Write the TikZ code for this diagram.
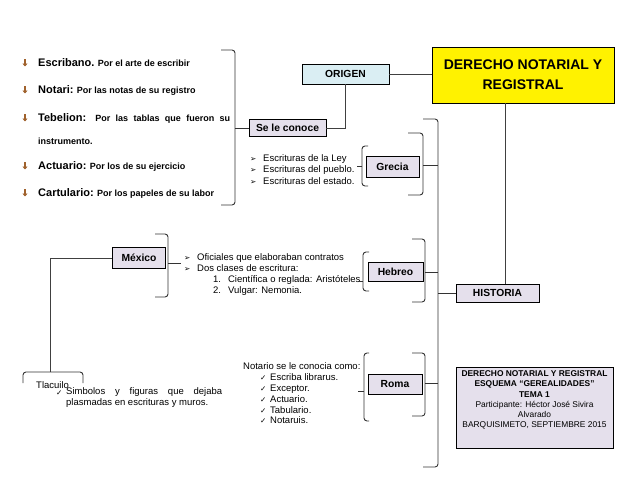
\documentclass[tikz,border=0pt]{standalone}
\usepackage{fontspec}
\setmainfont{Liberation Sans}
\newfontfamily\symfont{DejaVu Sans}
\usetikzlibrary{arrows.meta}

\definecolor{lila}{HTML}{E5E0EC}
\definecolor{celeste}{HTML}{DAEEF3}
\definecolor{cafe}{HTML}{A0622D}

\newcommand{\flecha}{\makebox[13pt][l]{\symfont\fontsize{7.5}{7.5}\selectfont ➢}}
\newcommand{\chk}{\makebox[10pt][l]{\symfont\fontsize{7.5}{7.5}\selectfont ✓}}

\tikzset{
  box/.style={draw, fill=lila, line width=0.8pt, inner sep=0pt, font=\bfseries\fontsize{10.3}{12}\selectfont},
  brace/.style={draw=black!80, line width=0.9pt, rounded corners=3pt},
  link/.style={draw=black!75, line width=0.9pt},
  txt/.style={anchor=west, inner sep=0pt, align=left, font=\fontsize{9.5}{11}\selectfont},
  termino/.style={txt, font=\bfseries\fontsize{9}{10}\selectfont},
  marca/.style={draw=cafe, line width=1.4pt, -{Triangle[width=5pt,length=3pt]}}
}

\begin{document}
\begin{tikzpicture}[x=1pt, y=-1pt]
\useasboundingbox (0,0) rectangle (638,493);

% Boxes
\node[box, fill=yellow, minimum width=182pt, minimum height=56pt, align=center,
      font=\bfseries\fontsize{14}{20}\selectfont] (titulo) at (523,75) {DERECHO NOTARIAL Y\\REGISTRAL};
\node[box, fill=celeste, minimum width=87pt, minimum height=20pt] (origen) at (345.5,74) {ORIGEN};
\node[box, minimum width=77pt, minimum height=17pt] (conoce) at (287.5,128) {Se le conoce};
\node[box, minimum width=53pt, minimum height=21pt] (grecia) at (392.5,166.5) {Grecia};
\node[box, minimum width=55pt, minimum height=19pt] (hebreo) at (395.5,272) {Hebreo};
\node[box, minimum width=54pt, minimum height=20pt] (roma) at (395,384) {Roma};
\node[box, minimum width=53pt, minimum height=21pt] (mexico) at (139,258) {México};
\node[box, minimum width=83pt, minimum height=18pt] (historia) at (497.5,293) {HISTORIA};
\node[box, minimum width=157pt, minimum height=81pt] (datos) at (534.5,407.5) {};
\node[anchor=north, align=center, inner sep=0pt, font=\fontsize{8.4}{10.2}\selectfont]
     (datostxt) at ([yshift=-4pt]datos.north)
     {\textbf{DERECHO NOTARIAL Y REGISTRAL}\\\textbf{ESQUEMA “GEREALIDADES”}\\\textbf{TEMA 1}\\
      Participante: Héctor José Sivira\\Alvarado\\BARQUISIMETO, SEPTIEMBRE 2015};

% Se le conoce
\foreach \y in {63,90,118,166,193}
  \draw[marca] (25,\y-4) -- (25,\y+3.5);
\node[termino] (escribano) at (38,63) {{\fontsize{11}{13}\selectfont Escribano.} Por el arte de escribir};
\node[termino] (notari) at (38,90) {{\fontsize{11}{13}\selectfont Notari:} Por las notas de su registro};
\node[termino] (tebelion) at (38,118) {\makebox[192pt][s]{{\fontsize{11}{13}\selectfont Tebelion:} Por las tablas que fueron su}};
\node[termino] (instrumento) at (38,141) {instrumento.};
\node[termino] (actuario) at (38,166) {{\fontsize{11}{13}\selectfont Actuario:} Por los de su ejercicio};
\node[termino] (cartulario) at (38,193) {{\fontsize{11}{13}\selectfont Cartulario:} Por los papeles de su labor};

% Textos
\node[txt, font=\fontsize{9.5}{11.5}\selectfont] (escrituras) at (250,169.5)
  {\flecha Escrituras de la Ley\\\flecha Escrituras del pueblo.\\\flecha Escrituras del estado.};
\node[txt] (oficiales) at (184,274.5)
  {\flecha Oficiales que elaboraban contratos\\\flecha Dos clases de escritura:\\
   \hspace*{29pt}1.\hspace{7pt}Científica o reglada: Aristóteles\\
   \hspace*{29pt}2.\hspace{7pt}Vulgar: Nemonia.};
\node[txt, font=\fontsize{9.5}{10.8}\selectfont] (notario) at (243,393.5)
  {Notario se le conocia como:\\\hspace*{17pt}\chk Escriba librarus.\\\hspace*{17pt}\chk Exceptor.\\
   \hspace*{17pt}\chk Actuario.\\\hspace*{17pt}\chk Tabulario.\\\hspace*{17pt}\chk Notaruis.};
\node[txt] (tlacuilo) at (36,385.5) {Tlacuilo};
\node[txt] (chk1) at (56,393) {\chk};
\node[txt] (simbolos) at (66,398)
  {\makebox[156pt][s]{Simbolos y figuras que dejaba}\\plasmadas en escrituras y muros.};

% Lines
\draw[link] (origen.east) -- (origen.east -| titulo.west);
\draw[link] (origen.south) |- (conoce.east);
\coordinate (histtop) at ([xshift=7.5pt]historia.north);
\draw[link] (histtop) -- (histtop |- titulo.south);
\coordinate (nib) at (50,372);
\draw[link] (mexico.west) -| (nib);

% Braces
\draw[brace] (221,50) -| (235,205) -- (221,205);
\draw[brace] (235,128) -- (conoce.west);
\draw[brace] (368,146) -| (362,186) -- (368,186);
\draw[brace] (362,166) -- (357,166);
\draw[brace] (408,133) -| (423,195) -- (408,195);
\draw[brace] (423,165) -- (438,165);
\draw[brace] (369,252) -| (363,291) -- (369,291);
\draw[brace] (363,281) -- (358,281);
\draw[brace] (412,239) -| (425,302) -- (412,302);
\draw[brace] (425,272) -- (438,272);
\draw[brace] (369,353) -| (364,421) -- (369,421);
\draw[brace] (364,391) -- (358,391);
\draw[brace] (412,353) -| (425,416) -- (412,416);
\draw[brace] (425,383) -- (438,383);
\draw[brace] (423,119) -| (438,467) -- (423,467);
\draw[brace] (438,293) -- (historia.west);
\draw[brace] (155,234) -| (168,297) -- (155,297);
\draw[brace] (168,263) -- (181,263);
\draw[brace] (23,383) |- (83,372) -- (83,383);
\end{tikzpicture}
\end{document}
